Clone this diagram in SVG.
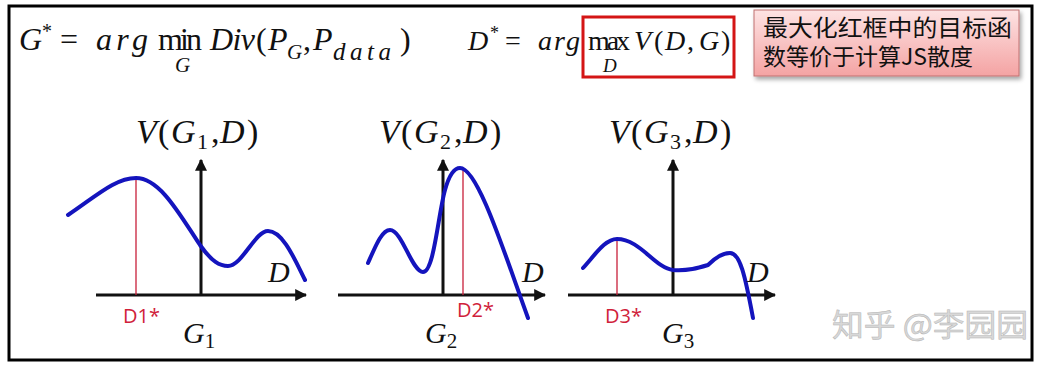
<svg xmlns="http://www.w3.org/2000/svg" width="1057" height="369" viewBox="0 0 1057 369">
<defs>
<style>
.m{font-family:"Liberation Serif","DejaVu Serif",serif;font-style:italic;fill:#111}
.u{font-family:"Liberation Serif","DejaVu Serif",serif;font-style:normal;fill:#111}
.cn{font-family:"Noto Sans CJK SC","Noto Sans",sans-serif;fill:#111}
.lbl{font-family:"Open Sans","Liberation Sans",sans-serif;fill:#d0213a;font-size:20px}
.ax{stroke:#111;stroke-width:3;fill:none}
.cv{stroke:#1414bd;stroke-width:4;fill:none;stroke-linecap:round}
.rl{stroke:#c8203a;stroke-width:1.3}
</style>
<marker id="ah" viewBox="0 0 10 10" refX="9" refY="5" markerWidth="4" markerHeight="4" orient="auto" markerUnits="strokeWidth">
<path d="M0,0 L10,5 L0,10 z" fill="#111"/>
</marker>
<linearGradient id="pk" x1="0" y1="0" x2="0" y2="1">
<stop offset="0" stop-color="#fde3e3"/>
<stop offset="1" stop-color="#f4a3a3"/>
</linearGradient>
<filter id="sh" x="-10%" y="-10%" width="120%" height="130%">
<feDropShadow dx="2" dy="3" stdDeviation="2" flood-color="#000" flood-opacity="0.35"/>
</filter>
</defs>
<rect x="0" y="0" width="1057" height="369" fill="#fff"/>
<rect x="9" y="6" width="1023" height="354" fill="#fff" stroke="#000" stroke-width="3"/>

<g id="formula-g">
<text class="m" font-size="32" x="19" y="50">G</text>
<text class="u" font-size="20" x="42" y="38">*</text>
<text class="u" font-size="32" x="60" y="50">=</text>
<text class="m" font-size="32" x="96" y="50" textLength="52" lengthAdjust="spacing">arg</text>
<text class="u" font-size="32" x="158" y="50" textLength="44" lengthAdjust="spacing">min</text>
<text class="m" font-size="21" x="175" y="72">G</text>
<text class="m" font-size="32" x="210" y="50" textLength="45" lengthAdjust="spacing">Div</text>
<text class="u" font-size="32" x="256" y="50">(</text>
<text class="m" font-size="32" x="268" y="50">P</text>
<text class="m" font-size="21" x="287" y="59">G</text>
<text class="u" font-size="32" x="303" y="50">,</text>
<text class="m" font-size="32" x="313" y="50">P</text>
<text class="m" font-size="25" x="333" y="60" textLength="58" lengthAdjust="spacing">data</text>
<text class="u" font-size="32" x="400" y="50">)</text>
</g>

<g id="formula-d">
<text class="m" font-size="28" x="468" y="50">D</text>
<text class="u" font-size="18" x="490" y="39">*</text>
<text class="u" font-size="28" x="505" y="50">=</text>
<text class="m" font-size="28" x="538" y="50" textLength="42" lengthAdjust="spacing">arg</text>
<text class="u" font-size="28" x="588" y="50" textLength="42" lengthAdjust="spacing">max</text>
<text class="m" font-size="19" x="603" y="72">D</text>
<text class="m" font-size="28" x="634" y="50">V</text>
<text class="u" font-size="28" x="654" y="50">(</text>
<text class="m" font-size="28" x="665" y="50">D</text>
<text class="u" font-size="28" x="687" y="50">,</text>
<text class="m" font-size="28" x="699" y="50">G</text>
<text class="u" font-size="28" x="721" y="50">)</text>
</g>

<g id="red-box">
<rect x="583" y="17" width="151" height="60" fill="none" stroke="#d41515" stroke-width="3"/>
</g>

<g id="callout">
<rect x="754" y="10" width="265" height="66" fill="url(#pk)" stroke="#c07070" stroke-width="1" filter="url(#sh)"/>
<text class="cn" font-size="23" x="763" y="36" textLength="249" lengthAdjust="spacingAndGlyphs">最大化红框中的目标函</text>
<text class="cn" font-size="23" x="763" y="65">数等价于计算JS散度</text>
</g>

<g id="connectors">
<line class="ax" x1="96" y1="295" x2="306" y2="295" marker-end="url(#ah)"/>
<line class="ax" x1="201" y1="295" x2="201" y2="160" marker-end="url(#ah)"/>
<line class="ax" x1="338" y1="295" x2="545" y2="295" marker-end="url(#ah)"/>
<line class="ax" x1="443" y1="295" x2="443" y2="160" marker-end="url(#ah)"/>
<line class="ax" x1="568" y1="295" x2="775" y2="295" marker-end="url(#ah)"/>
<line class="ax" x1="673" y1="295" x2="673" y2="160" marker-end="url(#ah)"/>
</g>

<g id="chart1">
<text class="m" font-size="34" y="143"><tspan x="136">V</tspan><tspan class="u" x="158">(</tspan><tspan x="171">G</tspan><tspan class="u" font-size="22" x="197" y="149">1</tspan><tspan class="u" x="211" y="143">,</tspan><tspan x="220">D</tspan><tspan class="u" x="247">)</tspan></text>
<line class="rl" x1="136" y1="179" x2="136" y2="295"/>
<path class="cv" d="M68,215 C95,197 115,178 136,178 C160,178 180,215 200,245 C212,262 220,266 228,266 C242,266 255,231 268,231 C283,231 295,260 305,280"/>
<text class="m" font-size="30" x="268" y="282">D</text>
<text class="lbl" x="123" y="323">D1*</text>
<text class="m" font-size="30" x="183" y="343">G<tspan class="u" font-size="21" dy="5">1</tspan></text>
</g>

<g id="chart2">
<text class="m" font-size="34" y="143"><tspan x="379">V</tspan><tspan class="u" x="401">(</tspan><tspan x="414">G</tspan><tspan class="u" font-size="22" x="440" y="149">2</tspan><tspan class="u" x="454" y="143">,</tspan><tspan x="463">D</tspan><tspan class="u" x="490">)</tspan></text>
<line class="rl" x1="463" y1="169" x2="463" y2="295"/>
<path class="cv" d="M368,263 C376,245 382,230 390,230 C402,230 412,272 423,272 C434,272 438,215 445,190 C450,172 455,168 460,168 C478,168 505,255 528,318"/>
<text class="m" font-size="30" x="522" y="282">D</text>
<text class="lbl" x="457" y="317">D2*</text>
<text class="m" font-size="30" x="425" y="343">G<tspan class="u" font-size="21" dy="5">2</tspan></text>
</g>

<g id="chart3">
<text class="m" font-size="34" y="143"><tspan x="609">V</tspan><tspan class="u" x="631">(</tspan><tspan x="644">G</tspan><tspan class="u" font-size="22" x="670" y="149">3</tspan><tspan class="u" x="684" y="143">,</tspan><tspan x="693">D</tspan><tspan class="u" x="720">)</tspan></text>
<line class="rl" x1="617" y1="240" x2="617" y2="295"/>
<path class="cv" d="M583,268 C595,255 605,239 617,239 C640,239 655,268 673,270 C688,271 698,268 708,265 C715,258 722,253 730,253 C740,253 745,275 753,318"/>
<text class="m" font-size="30" x="747" y="282">D</text>
<text class="lbl" x="605" y="323">D3*</text>
<text class="m" font-size="30" x="662" y="343">G<tspan class="u" font-size="21" dy="5">3</tspan></text>
</g>

<g id="watermark">
<text x="832" y="336" font-family="Noto Sans CJK SC,sans-serif" font-size="31" fill="#d8d8d8" stroke="#b4b4b4" stroke-width="0.5" textLength="196" lengthAdjust="spacingAndGlyphs">知乎 @李园园</text>
</g>
</svg>
